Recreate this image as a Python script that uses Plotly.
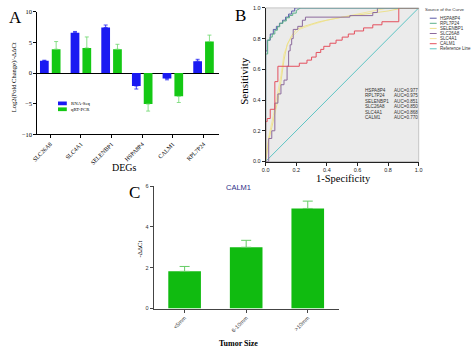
import plotly.graph_objects as go

W, H = 474, 352
def fx(p): return p / W
def fy(p): return 1 - p / H

# ---------------- Panel A data ----------------
degs = ["SLC26A8", "SLC4A1", "SELENBP1", "HSPA8P4", "CALM1", "RPL7P24"]
rnaseq = [2.0, 6.6, 7.45, -2.1, -0.9, 1.95]
rnaseq_err = [0.1, 0.2, 0.4, 0.5, 0.2, 0.3]
qpcr = [3.9, 4.1, 3.9, -5.05, -3.8, 5.15]
qpcr_err = [1.25, 1.8, 0.8, 1.15, 1.0, 1.05]

# ---------------- Panel B data (ROC curves) ----------------
hspa8p4_fpr = [0, 0, 0.01, 0.01, 0.03, 0.03, 0.05, 0.05, 0.07, 0.07, 0.09, 0.09, 0.11, 0.11, 0.13, 0.13, 0.15, 0.15, 0.17, 0.17, 0.19, 0.19, 1]
hspa8p4_tpr = [0, 0.72, 0.72, 0.79, 0.79, 0.83, 0.83, 0.86, 0.86, 0.88, 0.88, 0.90, 0.90, 0.92, 0.92, 0.94, 0.94, 0.96, 0.96, 0.98, 0.98, 1.0, 1.0]
rpl7p24_fpr = [0, 0, 0.013, 0.013, 0.028, 0.028, 0.043, 0.043, 0.06, 0.06, 0.077, 0.077, 0.092, 0.092, 0.113, 0.113, 0.135, 0.135, 0.156, 0.156, 0.177, 0.177, 0.2, 0.2, 0.23, 1]
rpl7p24_tpr = [0, 0.70, 0.70, 0.79, 0.79, 0.81, 0.81, 0.83, 0.83, 0.855, 0.855, 0.877, 0.877, 0.90, 0.90, 0.915, 0.915, 0.936, 0.936, 0.951, 0.951, 0.966, 0.966, 0.983, 1.0, 1.0]
selenbp1_fpr = [0, 0.01, 0.02, 0.04, 0.06, 0.08, 0.10, 0.12, 0.14, 0.17, 0.20, 0.25, 0.35, 0.50, 0.65, 0.80, 0.90, 1]
selenbp1_tpr = [0, 0.08, 0.14, 0.22, 0.30, 0.40, 0.52, 0.66, 0.76, 0.82, 0.86, 0.88, 0.91, 0.94, 0.96, 0.98, 1.0, 1.0]
slc26a8_fpr = [0, 0.02, 0.02, 0.04, 0.04, 0.06, 0.06, 0.08, 0.08, 0.10, 0.10, 0.12, 0.12, 0.14, 0.14, 0.15, 0.15, 0.16, 0.16, 0.17, 0.17, 0.18, 0.18, 0.21, 0.21, 0.24, 0.24, 0.26, 0.26, 0.55, 0.55, 0.70, 0.70, 0.73, 0.73, 1]
slc26a8_tpr = [0, 0, 0.15, 0.15, 0.20, 0.20, 0.38, 0.38, 0.44, 0.44, 0.50, 0.50, 0.53, 0.53, 0.62, 0.62, 0.72, 0.72, 0.76, 0.76, 0.80, 0.80, 0.86, 0.86, 0.88, 0.88, 0.92, 0.92, 0.94, 0.94, 0.95, 0.95, 0.97, 0.97, 1.0, 1.0]
slc4a1_fpr = [0, 0.01, 0.02, 0.05, 0.08, 0.10, 0.12, 0.15, 0.18, 0.22, 0.30, 0.40, 0.55, 0.70, 0.80, 1]
slc4a1_tpr = [0, 0.10, 0.16, 0.30, 0.45, 0.56, 0.70, 0.78, 0.82, 0.86, 0.89, 0.92, 0.95, 0.98, 1.0, 1.0]
calm1_fpr = [0, 0, 0.01, 0.01, 0.03, 0.03, 0.06, 0.06, 0.08, 0.08, 0.22, 0.22, 0.27, 0.27, 0.30, 0.30, 0.33, 0.33, 0.36, 0.36, 0.38, 0.38, 0.42, 0.42, 0.46, 0.46, 0.50, 0.50, 0.54, 0.54, 0.58, 0.58, 0.64, 0.64, 0.70, 0.70, 0.76, 0.76, 0.87, 0.87, 1]
calm1_tpr = [0, 0.26, 0.26, 0.28, 0.28, 0.34, 0.34, 0.52, 0.52, 0.62, 0.62, 0.64, 0.64, 0.66, 0.66, 0.68, 0.68, 0.71, 0.71, 0.73, 0.73, 0.75, 0.75, 0.77, 0.77, 0.79, 0.79, 0.81, 0.81, 0.83, 0.83, 0.85, 0.85, 0.87, 0.87, 0.89, 0.89, 0.91, 0.91, 1.0, 1.0]
ref_x = [0, 1]
ref_y = [0, 1]

curve_names = ["HSPA8P4", "RPL7P24", "SELENBP1", "SLC26A8", "SLC4A1", "CALM1", "Reference Line"]
auc_values = ["0.977", "0.975", "0.851", "0.850", "0.868", "0.770"]

# ---------------- Panel C data ----------------
sizes = ["<5mm", "6-10mm", ">10mm"]
calm1_ddct = [1.82, 3.0, 4.9]
calm1_ddct_err = [0.24, 0.34, 0.36]

BLUE = "#1a1af2"
GREEN = "#14c814"
curve_colors = ["#5a5aa8", "#5cb08a", "#ece08c", "#8c6a9c", "#f2e6a0", "#e4505e", "#5ec4c4"]
SERIF = "Liberation Serif"
SANS = "Liberation Sans"

fig = go.Figure()

def split_err(vals, errs):
    up = [e if v >= 0 else 0 for v, e in zip(vals, errs)]
    dn = [e if v < 0 else 0 for v, e in zip(vals, errs)]
    return up, dn

u, d = split_err(rnaseq, rnaseq_err)
fig.add_trace(go.Bar(x=degs, y=rnaseq, width=0.285, offset=-0.335, marker=dict(color=BLUE, line=dict(width=0)),
                     error_y=dict(type="data", array=u, arrayminus=d, color=BLUE, thickness=0.8, width=2),
                     xaxis="x", yaxis="y", showlegend=False, name="RNA-Seq"))
u, d = split_err(qpcr, qpcr_err)
fig.add_trace(go.Bar(x=degs, y=qpcr, width=0.285, offset=0.05, marker=dict(color=GREEN, line=dict(width=0)),
                     error_y=dict(type="data", array=u, arrayminus=d, color="#6cd86c", thickness=0.8, width=2),
                     xaxis="x", yaxis="y", showlegend=False, name="qRT-PCR"))

rocs = [(hspa8p4_fpr, hspa8p4_tpr), (rpl7p24_fpr, rpl7p24_tpr), (selenbp1_fpr, selenbp1_tpr),
        (slc26a8_fpr, slc26a8_tpr), (slc4a1_fpr, slc4a1_tpr), (calm1_fpr, calm1_tpr), (ref_x, ref_y)]
order = [6, 4, 2, 0, 3, 5, 1]
for i in order:
    xs, ys = rocs[i]
    fig.add_trace(go.Scatter(x=xs, y=ys, mode="lines", line=dict(color=curve_colors[i], width=1),
                             xaxis="x2", yaxis="y2", showlegend=False, name=curve_names[i], cliponaxis=False))

fig.add_trace(go.Bar(x=sizes, y=calm1_ddct, width=0.53, marker=dict(color="#10bb10", line=dict(width=0)),
                     error_y=dict(type="data", array=calm1_ddct_err, arrayminus=[0] * 3, color="#66cc66", thickness=1, width=5),
                     xaxis="x3", yaxis="y3", showlegend=False, name="CALM1"))

ann = []
shapes = []

# letters
ann.append(dict(text="A", x=fx(2), y=fy(2), xanchor="left", yanchor="top", font=dict(family=SERIF, size=17, color="black")))
ann.append(dict(text="B", x=fx(232), y=fy(0), xanchor="left", yanchor="top", font=dict(family=SERIF, size=17, color="black")))
ann.append(dict(text="C", x=fx(124), y=fy(181), xanchor="left", yanchor="top", font=dict(family=SERIF, size=17, color="black")))

# axis titles
ann.append(dict(text="Log2(Fold Change)/-ΔΔCt", x=fx(9), y=fy(75), textangle=-90, font=dict(family=SERIF, size=6.5, color="black")))
ann.append(dict(text="DEGs", x=fx(122), y=fy(167), font=dict(family=SERIF, size=10, color="black")))
ann.append(dict(text="Sensitivity", x=fx(244), y=fy(78), textangle=-90, font=dict(family=SERIF, size=11, color="black")))
ann.append(dict(text="1-Specificity", x=fx(345), y=fy(178), font=dict(family=SERIF, size=10.5, color="black")))
ann.append(dict(text="-ΔΔCt", x=fx(137), y=fy(250), textangle=-90, font=dict(family=SERIF, size=6.5, color="black")))
ann.append(dict(text="<b>Tumor Size</b>", x=fx(238), y=fy(346), font=dict(family=SERIF, size=8, color="black")))
ann.append(dict(text="CALM1", x=fx(238), y=fy(187), font=dict(family=SANS, size=7.5, color="#2e2e88")))

# legend A
for yy, col, lab in [(99.5, BLUE, "RNA-Seq"), (105.5, GREEN, "qRT-PCR")]:
    shapes.append(dict(type="rect", xref="paper", yref="paper", x0=fx(54), x1=fx(63), y0=fy(yy), y1=fy(yy + 3.8),
                       fillcolor=col, line=dict(width=0)))
    ann.append(dict(text=lab, x=fx(65), y=fy(yy + 1.9), xanchor="left", font=dict(family=SERIF, size=4.8, color="black")))

# legend B
ann.append(dict(text="Source of the Curve", x=fx(426), y=fy(6), xanchor="left", font=dict(family=SANS, size=4.4, color="#333")))
for k, name in enumerate(curve_names):
    yy = 14.5 + k * 5.2
    shapes.append(dict(type="line", xref="paper", yref="paper", x0=fx(433), x1=fx(440), y0=fy(yy), y1=fy(yy),
                       line=dict(color=curve_colors[k], width=1)))
    ann.append(dict(text=name, x=fx(441), y=fy(yy), xanchor="left", font=dict(family=SANS, size=4.5, color="#333")))

# AUC texts
for k in range(6):
    yy = 88 + k * 5.6
    ann.append(dict(text=curve_names[k], x=fx(365), y=fy(yy), xanchor="left", font=dict(family=SANS, size=4.6, color="#333")))
    ann.append(dict(text="AUC=" + auc_values[k], x=fx(394), y=fy(yy), xanchor="left", font=dict(family=SANS, size=4.6, color="#333")))

for a in ann:
    a.setdefault("xref", "paper")
    a.setdefault("yref", "paper")
    a.setdefault("xanchor", "center")
    a.setdefault("yanchor", "middle")
    a["showarrow"] = False

# gray background of panel B
shapes.insert(0, dict(type="rect", xref="x2 domain", yref="y2 domain", x0=0, x1=1, y0=0, y1=1,
                      fillcolor="#ebebeb", line=dict(color="#c4c4c4", width=1), layer="below"))

tick01 = [0, 0.2, 0.4, 0.6, 0.8, 1.0]
fig.update_layout(
    width=W, height=H, autosize=False,
    margin=dict(l=0, r=0, t=0, b=0),
    paper_bgcolor="white", plot_bgcolor="rgba(0,0,0,0)",
    barmode="overlay",
    annotations=ann, shapes=shapes,
    xaxis=dict(domain=[fx(33), fx(218)], anchor="y", range=[-0.42, 5.5], showline=True, linecolor="black", linewidth=1,
               ticks="outside", ticklen=3, tickcolor="black", tickangle=-45, showgrid=False,
               tickfont=dict(family=SERIF, size=6, color="black")),
    yaxis=dict(domain=[fy(133), fy(8)], anchor="x", range=[-10, 10], tickvals=[-10, -5, 0, 5, 10], showline=True,
               linecolor="black", linewidth=1, ticks="outside", ticklen=3, tickcolor="black", showgrid=False,
               zeroline=True, zerolinecolor="black", zerolinewidth=1,
               tickfont=dict(family=SERIF, size=6.5, color="black")),
    xaxis2=dict(domain=[fx(265.7), fx(421.7)], anchor="y2", range=[0, 1], tickvals=tick01,
                ticktext=["0.0", "0.2", "0.4", "0.6", "0.8", "1.0"], showline=True, linecolor="#222", linewidth=1,
                ticks="outside", ticklen=3, tickcolor="#222", showgrid=False, zeroline=False,
                tickfont=dict(family=SANS, size=5.5, color="#222")),
    yaxis2=dict(domain=[fy(160.7), fy(4)], anchor="x2", range=[0, 1], tickvals=tick01,
                ticktext=["0.0", "0.2", "0.4", "0.6", "0.8", "1.0"], showline=True, linecolor="#222", linewidth=1,
                ticks="outside", ticklen=3, tickcolor="#222", showgrid=False, zeroline=False,
                tickfont=dict(family=SANS, size=5.5, color="#222")),
    xaxis3=dict(domain=[fx(151.7), fx(340)], anchor="y3", range=[-0.5, 2.5], showline=True, linecolor="#444",
                linewidth=1.2, ticks="outside", ticklen=3, tickcolor="#444", tickangle=-45, showgrid=False,
                tickfont=dict(family=SANS, size=5.5, color="#333")),
    yaxis3=dict(domain=[fy(310.7), fy(185.7)], anchor="x3", range=[0, 6], tickvals=[0, 2, 4, 6], showline=True,
                linecolor="#444", linewidth=1.2, ticks="outside", ticklen=3, tickcolor="#444", showgrid=False,
                zeroline=False, tickfont=dict(family=SANS, size=5.5, color="#333")),
)

fig.write_html("out.html")
